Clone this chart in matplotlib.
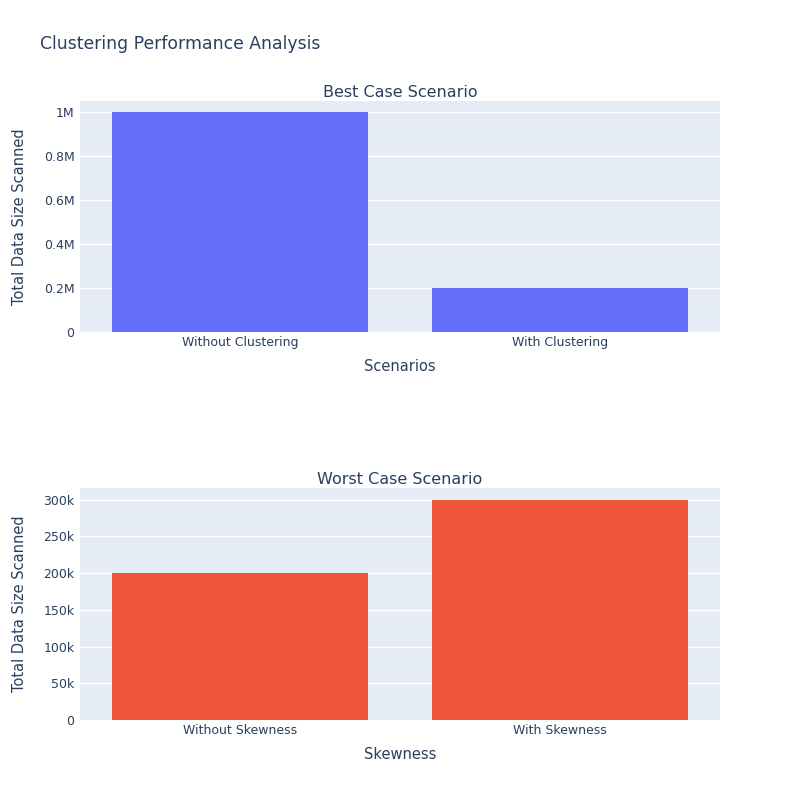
import matplotlib
matplotlib.use('Agg')
import matplotlib.pyplot as plt

# data
best_cats = ['Without Clustering', 'With Clustering']
best_vals = [1000000, 200000]
best_ticks = [0, 200000, 400000, 600000, 800000, 1000000]
best_tick_labels = ['0', '0.2M', '0.4M', '0.6M', '0.8M', '1M']

worst_cats = ['Without Skewness', 'With Skewness']
worst_vals = [200000, 300000]
worst_ticks = [0, 50000, 100000, 150000, 200000, 250000, 300000]
worst_tick_labels = ['0', '50k', '100k', '150k', '200k', '250k', '300k']

txt = '#2a3f5f'
bg = '#E5ECF6'

fig = plt.figure(figsize=(8, 8), dpi=100)
ax1 = fig.add_axes([0.1, 0.585, 0.8, 0.289])
ax2 = fig.add_axes([0.1, 0.1, 0.8, 0.29])


def style(ax, cats, vals, color, ticks, labels, ymax, title, xlabel):
    ax.set_facecolor(bg)
    ax.bar(range(len(cats)), vals, width=0.8, color=color, zorder=3)
    ax.set_xlim(-0.5, len(cats) - 0.5)
    ax.set_ylim(0, ymax)
    ax.set_xticks(range(len(cats)))
    ax.set_xticklabels(cats)
    ax.set_yticks(ticks)
    ax.set_yticklabels(labels)
    ax.grid(axis='y', color='white', linewidth=1, zorder=0)
    ax.set_axisbelow(True)
    for s in ax.spines.values():
        s.set_visible(False)
    ax.tick_params(length=0, labelsize=9, labelcolor=txt)
    ax.tick_params(axis='x', pad=3)
    ax.tick_params(axis='y', pad=4)
    ax.set_title(title, fontsize=11.5, color=txt, pad=3)
    ax.set_xlabel(xlabel, fontsize=10.5, color=txt, labelpad=7)
    ax.set_ylabel('Total Data Size Scanned', fontsize=10.5, color=txt, labelpad=12)


style(ax1, best_cats, best_vals, '#636EFA', best_ticks, best_tick_labels,
      1050000, 'Best Case Scenario', 'Scenarios')
style(ax2, worst_cats, worst_vals, '#EF553B', worst_ticks, worst_tick_labels,
      316000, 'Worst Case Scenario', 'Skewness')

fig.text(0.05, 0.945, 'Clustering Performance Analysis', fontsize=12.4, color=txt,
         va='center', ha='left')

fig.savefig('out.png', dpi=100)
